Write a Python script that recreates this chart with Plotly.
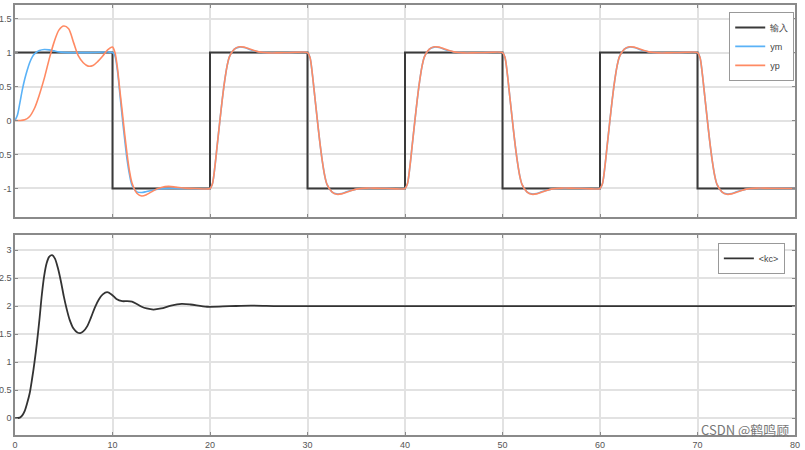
import plotly.graph_objects as go

# ---------------- data ----------------
t_in = [0, 10, 10, 20, 20, 30, 30, 40, 40, 50, 50, 60, 60, 70, 70, 80]
u_in = [1, 1, -1, -1, 1, 1, -1, -1, 1, 1, -1, -1, 1, 1, -1, -1]

t_ym = [0, 0.25, 0.5, 0.75, 1, 1.25, 1.5, 1.75, 2, 2.5, 3, 3.5, 4, 4.5, 5, 6, 7, 8,
        10, 10.25, 10.5, 10.75, 11, 11.25, 11.5, 11.75, 12, 12.5, 13, 13.5, 14, 14.5, 15, 16, 17, 18,
        20, 20.25, 20.5, 20.75, 21, 21.25, 21.5, 21.75, 22, 22.5, 23, 23.5, 24, 24.5, 25, 26, 27, 28,
        30, 30.25, 30.5, 30.75, 31, 31.25, 31.5, 31.75, 32, 32.5, 33, 33.5, 34, 34.5, 35, 36, 37, 38,
        40, 40.25, 40.5, 40.75, 41, 41.25, 41.5, 41.75, 42, 42.5, 43, 43.5, 44, 44.5, 45, 46, 47, 48,
        50, 50.25, 50.5, 50.75, 51, 51.25, 51.5, 51.75, 52, 52.5, 53, 53.5, 54, 54.5, 55, 56, 57, 58,
        60, 60.25, 60.5, 60.75, 61, 61.25, 61.5, 61.75, 62, 62.5, 63, 63.5, 64, 64.5, 65, 66, 67, 68,
        70, 70.25, 70.5, 70.75, 71, 71.25, 71.5, 71.75, 72, 72.5, 73, 73.5, 74, 74.5, 75, 76, 77, 78,
        80]
ym = [0, 0.08, 0.26, 0.45, 0.61, 0.74, 0.85, 0.93, 0.98, 1.03, 1.045, 1.04, 1.025, 1.01, 1.003, 0.998, 0.999, 1.0,
      1.0, 0.95, 0.74, 0.4, 0.05, -0.28, -0.58, -0.8, -0.95, -1.05, -1.06, -1.045, -1.03, -1.015, -1.005, -0.998, -0.999, -1.0,
      -1.0, -0.93, -0.68, -0.35, -0.02, 0.3, 0.58, 0.8, 0.94, 1.05, 1.08, 1.075, 1.05, 1.028, 1.01, 0.996, 0.996, 0.998,
      1.0, 0.93, 0.68, 0.35, 0.02, -0.3, -0.58, -0.8, -0.94, -1.05, -1.08, -1.075, -1.05, -1.028, -1.01, -0.996, -0.996, -0.998,
      -1.0, -0.93, -0.68, -0.35, -0.02, 0.3, 0.58, 0.8, 0.94, 1.05, 1.08, 1.075, 1.05, 1.028, 1.01, 0.996, 0.996, 0.998,
      1.0, 0.93, 0.68, 0.35, 0.02, -0.3, -0.58, -0.8, -0.94, -1.05, -1.08, -1.075, -1.05, -1.028, -1.01, -0.996, -0.996, -0.998,
      -1.0, -0.93, -0.68, -0.35, -0.02, 0.3, 0.58, 0.8, 0.94, 1.05, 1.08, 1.075, 1.05, 1.028, 1.01, 0.996, 0.996, 0.998,
      1.0, 0.93, 0.68, 0.35, 0.02, -0.3, -0.58, -0.8, -0.94, -1.05, -1.08, -1.075, -1.05, -1.028, -1.01, -0.996, -0.996, -0.998,
      -1.0]

t_yp = [0, 0.5, 1, 1.5, 2, 2.5, 3, 3.5, 4, 4.5, 5, 5.5, 6, 6.5, 7, 7.5, 8, 8.5, 9, 9.5,
        10, 10.25, 10.5, 10.75, 11, 11.25, 11.5, 11.75, 12, 12.5, 13, 13.5, 14, 14.5, 15, 15.75, 16.5, 17.5, 18.5,
        20, 20.25, 20.5, 20.75, 21, 21.25, 21.5, 21.75, 22, 22.5, 23, 23.5, 24, 24.5, 25, 26, 27, 28,
        30, 30.25, 30.5, 30.75, 31, 31.25, 31.5, 31.75, 32, 32.5, 33, 33.5, 34, 34.5, 35, 36, 37, 38,
        40, 40.25, 40.5, 40.75, 41, 41.25, 41.5, 41.75, 42, 42.5, 43, 43.5, 44, 44.5, 45, 46, 47, 48,
        50, 50.25, 50.5, 50.75, 51, 51.25, 51.5, 51.75, 52, 52.5, 53, 53.5, 54, 54.5, 55, 56, 57, 58,
        60, 60.25, 60.5, 60.75, 61, 61.25, 61.5, 61.75, 62, 62.5, 63, 63.5, 64, 64.5, 65, 66, 67, 68,
        70, 70.25, 70.5, 70.75, 71, 71.25, 71.5, 71.75, 72, 72.5, 73, 73.5, 74, 74.5, 75, 76, 77, 78,
        80]
yp = [0, 0.0, 0.01, 0.06, 0.18, 0.38, 0.62, 0.9, 1.15, 1.33, 1.39, 1.35, 1.15, 0.95, 0.85, 0.8, 0.81, 0.87, 0.95, 1.04,
      1.08, 1.0, 0.78, 0.45, 0.13, -0.2, -0.5, -0.75, -0.92, -1.07, -1.11, -1.09, -1.05, -1.01, -0.985, -0.97, -0.98, -0.995, -1.0,
      -1.0, -0.93, -0.68, -0.35, -0.02, 0.3, 0.58, 0.8, 0.94, 1.05, 1.085, 1.08, 1.055, 1.03, 1.01, 0.995, 0.995, 0.998,
      1.0, 0.93, 0.68, 0.35, 0.02, -0.3, -0.58, -0.8, -0.94, -1.05, -1.085, -1.08, -1.055, -1.03, -1.01, -0.995, -0.995, -0.998,
      -1.0, -0.93, -0.68, -0.35, -0.02, 0.3, 0.58, 0.8, 0.94, 1.05, 1.085, 1.08, 1.055, 1.03, 1.01, 0.995, 0.995, 0.998,
      1.0, 0.93, 0.68, 0.35, 0.02, -0.3, -0.58, -0.8, -0.94, -1.05, -1.085, -1.08, -1.055, -1.03, -1.01, -0.995, -0.995, -0.998,
      -1.0, -0.93, -0.68, -0.35, -0.02, 0.3, 0.58, 0.8, 0.94, 1.05, 1.085, 1.08, 1.055, 1.03, 1.01, 0.995, 0.995, 0.998,
      1.0, 0.93, 0.68, 0.35, 0.02, -0.3, -0.58, -0.8, -0.94, -1.05, -1.085, -1.08, -1.055, -1.03, -1.01, -0.995, -0.995, -0.998,
      -1.0]

t_kc = [0, 0.5, 0.75, 1, 1.25, 1.5, 1.75, 2, 2.25, 2.5, 2.75, 3, 3.25, 3.5, 3.8, 4.1, 4.4, 4.7, 5, 5.3, 5.6,
        6, 6.4, 6.7, 7, 7.4, 7.8, 8.2, 8.6, 9, 9.45, 9.9, 10.4, 11, 11.5, 12, 12.5, 13, 13.5, 14.2, 15,
        16, 17.1, 18, 19.7, 22, 24.2, 27, 30, 40, 50, 60, 70, 80]
kc = [0, 0.01, 0.05, 0.13, 0.27, 0.44, 0.7, 1.0, 1.35, 1.75, 2.2, 2.55, 2.77, 2.88, 2.91, 2.85, 2.68, 2.45, 2.18, 1.95, 1.76,
      1.6, 1.53, 1.52, 1.55, 1.64, 1.8, 1.98, 2.12, 2.21, 2.25, 2.21, 2.13, 2.09, 2.09, 2.08, 2.04, 1.99, 1.96, 1.94, 1.96,
      2.01, 2.04, 2.03, 1.99, 2.0, 2.01, 2.0, 2.0, 2.0, 2.0, 2.0, 2.0, 2.0]

x_ticks = [0, 10, 20, 30, 40, 50, 60, 70, 80]
y1_ticks = [-1, -0.5, 0, 0.5, 1, 1.5]
y1_labels = ["-1", "-0.5", "0", "0.5", "1", "1.5"]
y2_ticks = [0, 0.5, 1, 1.5, 2, 2.5, 3]
y2_labels = ["0", "0.5", "1", "1.5", "2", "2.5", "3"]

# ---------------- figure ----------------
fig = go.Figure()
fig.add_trace(go.Scatter(x=t_in, y=u_in, name="输入", mode="lines",
                         line=dict(color="#3a3a3a", width=2), xaxis="x", yaxis="y", legend="legend"))
fig.add_trace(go.Scatter(x=t_ym, y=ym, name="ym", mode="lines",
                         line=dict(color="#5ab2f7", width=1.6, shape="spline", smoothing=0.8),
                         xaxis="x", yaxis="y", legend="legend"))
fig.add_trace(go.Scatter(x=t_yp, y=yp, name="yp", mode="lines",
                         line=dict(color="#ff8a63", width=1.6, shape="spline", smoothing=0.8),
                         xaxis="x", yaxis="y", legend="legend"))
fig.add_trace(go.Scatter(x=t_kc, y=kc, name="<kc>", mode="lines",
                         line=dict(color="#333333", width=1.8, shape="spline", smoothing=0.8),
                         xaxis="x2", yaxis="y2", legend="legend2"))

grid = "#e2e2e2"
box = "#8a8a8a"
tickfont = dict(family="Liberation Sans, Arial, sans-serif", size=9, color="#555555")

common_x = dict(range=[0, 80], tickvals=x_ticks, showgrid=True, gridcolor=grid, gridwidth=1.5,
                zeroline=False, showline=True, linecolor=box, linewidth=1.5, mirror="ticks",
                ticks="inside", ticklen=3, tickcolor=box, tickfont=tickfont, automargin=False)
common_y = dict(showgrid=True, gridcolor=grid, gridwidth=1.5, zeroline=False, showline=True,
                linecolor=box, linewidth=1.5, mirror="ticks", ticks="inside", ticklen=3,
                tickcolor=box, tickfont=tickfont, automargin=False)

fig.update_layout(
    width=805, height=450,
    margin=dict(l=15, r=10, t=5, b=15, autoexpand=False),
    paper_bgcolor="white", plot_bgcolor="white",
    xaxis=dict(common_x, domain=[0, 1], anchor="y", showticklabels=False),
    yaxis=dict(common_y, domain=[0.507, 1], range=[-1.42, 1.70], tickvals=y1_ticks,
               ticktext=y1_labels, anchor="x"),
    xaxis2=dict(common_x, domain=[0, 1], anchor="y2", ticktext=[str(v) for v in x_ticks]),
    yaxis2=dict(common_y, domain=[0, 0.465], range=[-0.30, 3.27], tickvals=y2_ticks,
                ticktext=y2_labels, anchor="x2"),
    legend=dict(x=0.999, y=0.984, xanchor="right", yanchor="top",
                bgcolor="white", bordercolor="#999999", borderwidth=1,
                font=dict(family="Liberation Sans, Arial, sans-serif", size=9, color="#444444"),
                tracegroupgap=0),
    legend2=dict(x=0.987, y=0.447, xanchor="right", yanchor="top",
                 bgcolor="white", bordercolor="#999999", borderwidth=1,
                 font=dict(family="Liberation Sans, Arial, sans-serif", size=9, color="#444444")),
    showlegend=True,
    annotations=[dict(text="CSDN @鹤鸣顾", xref="paper", yref="paper", x=0.995, y=0.012,
                      xanchor="right", yanchor="middle", showarrow=False,
                      font=dict(family="Noto Sans CJK SC, sans-serif", size=13, color="#777777"))],
)

fig.write_html("out.html", config={"displayModeBar": False},
               post_script="document.body.style.margin='0';document.body.style.padding='0';")
